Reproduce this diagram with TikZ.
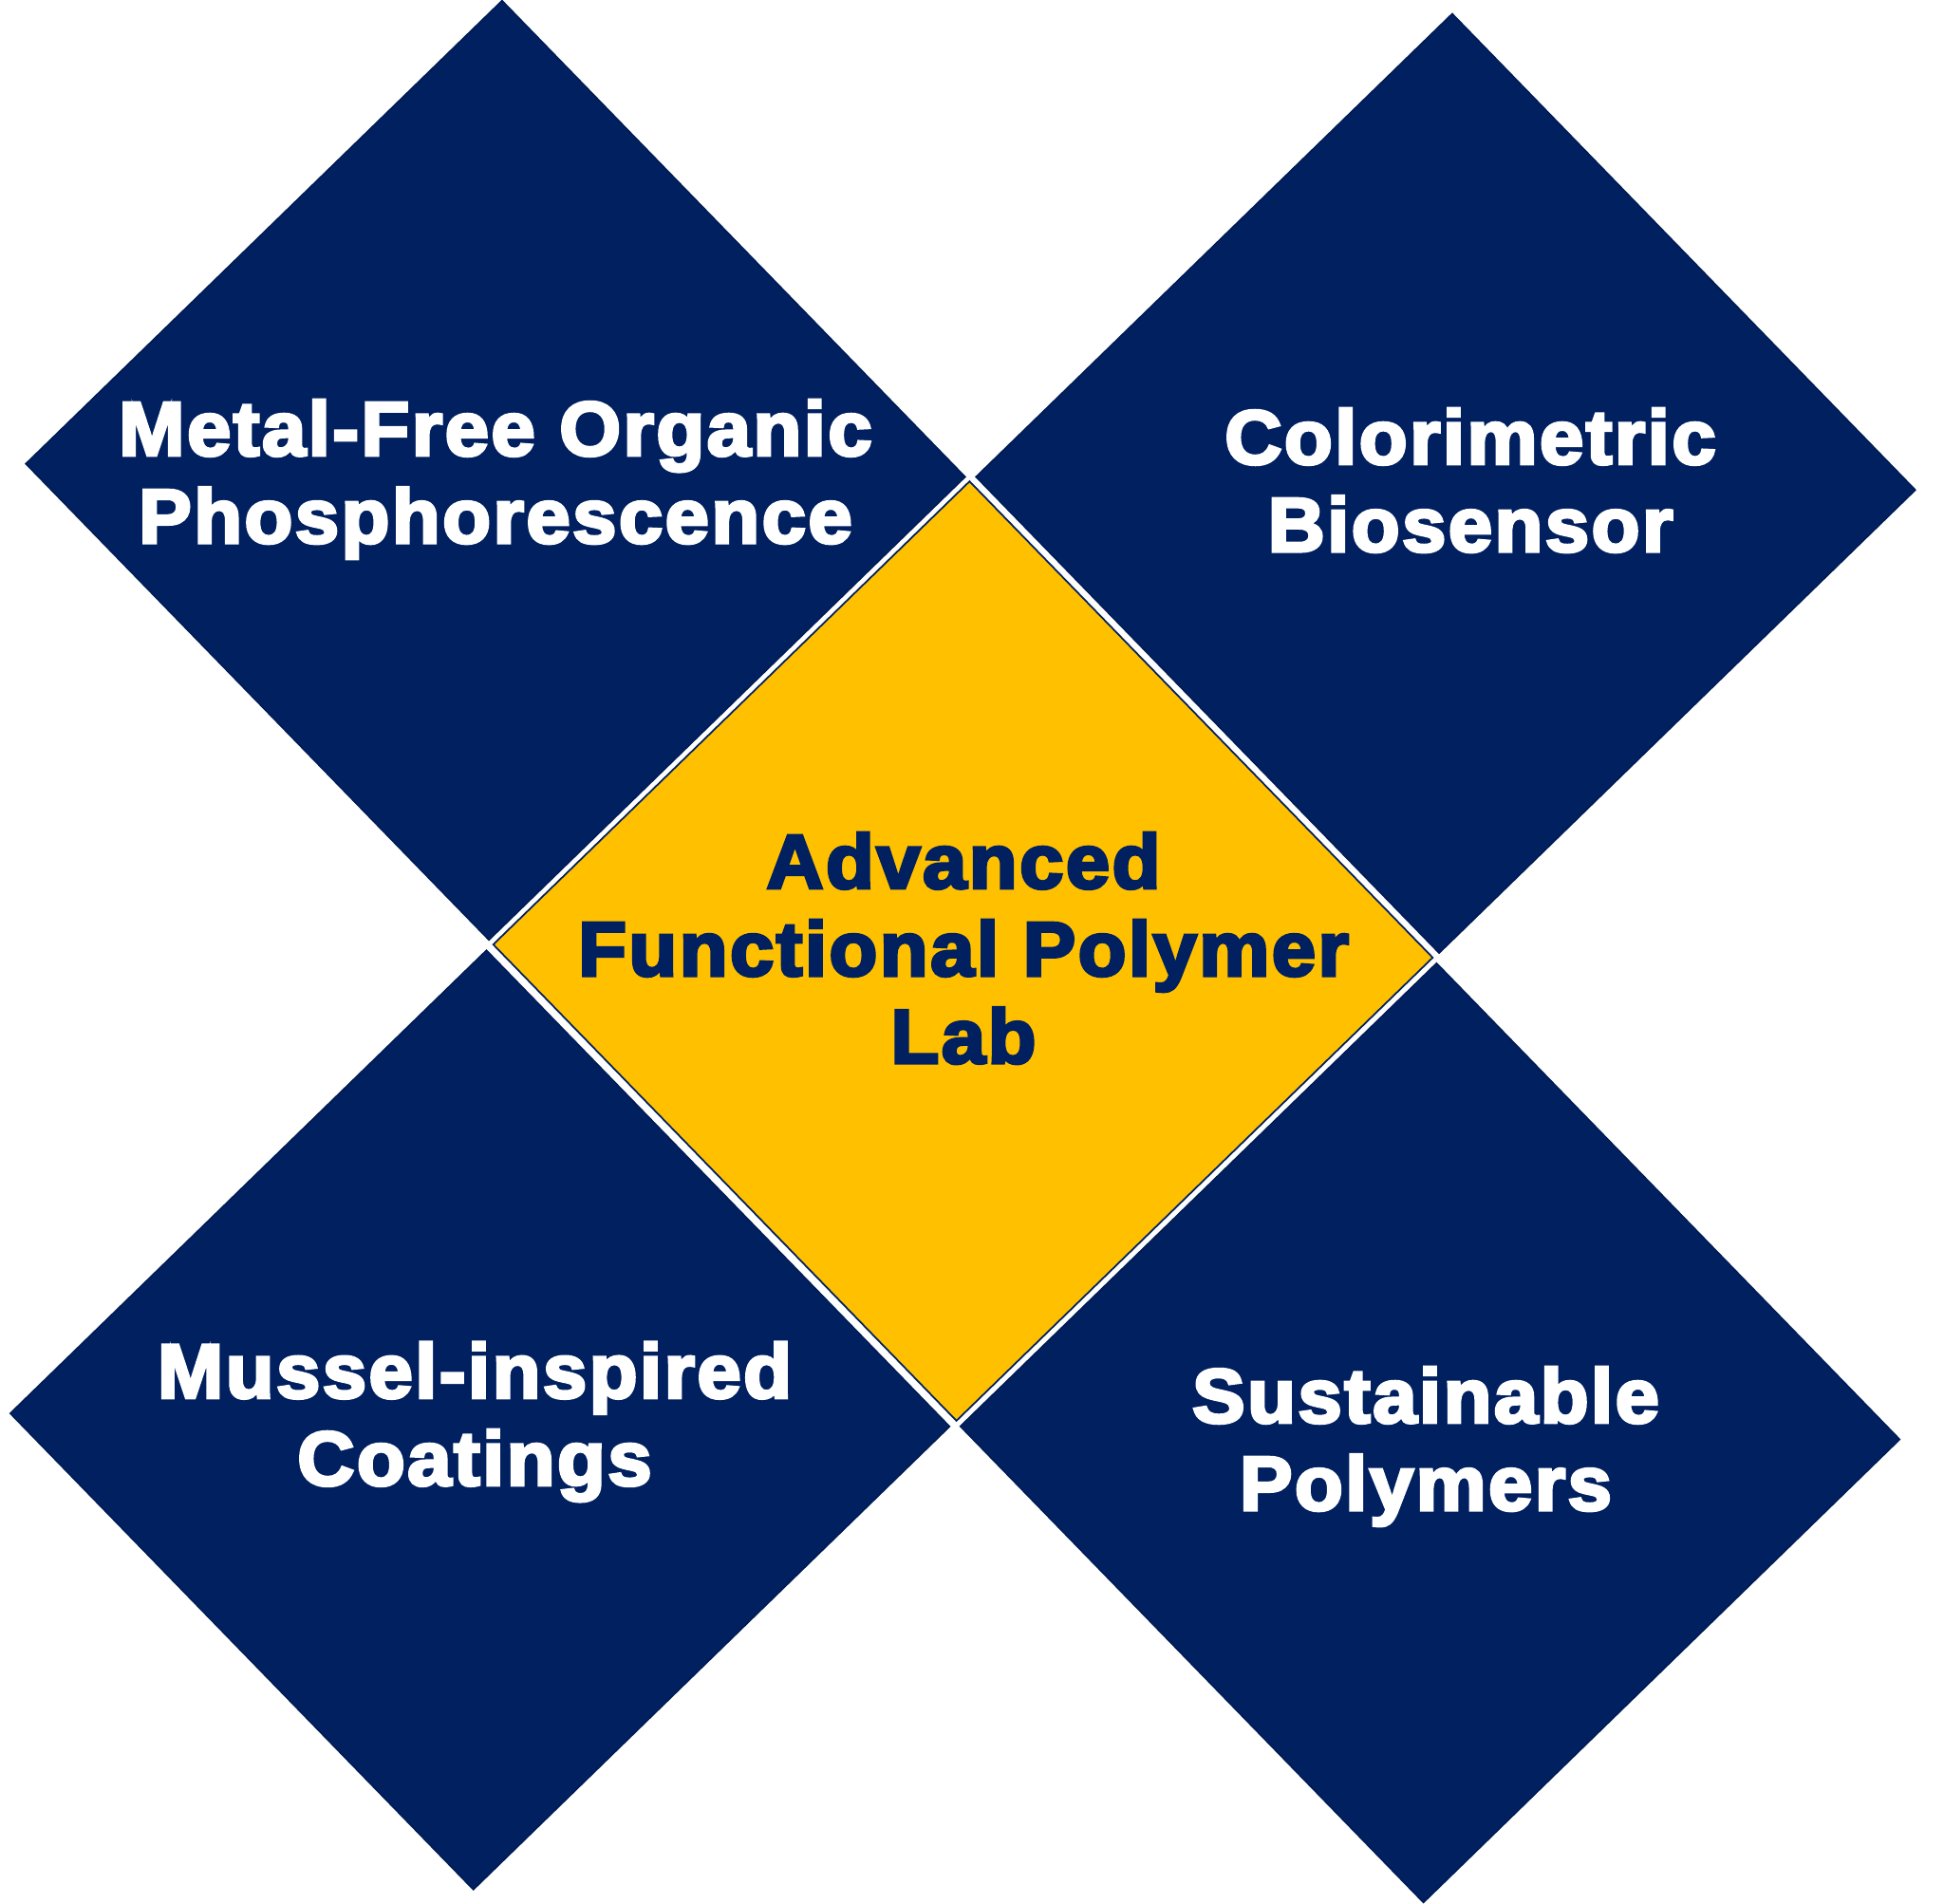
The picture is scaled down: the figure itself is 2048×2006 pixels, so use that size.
\documentclass[tikz,border=0pt]{standalone}
\usepackage{fontspec}
\newfontfamily\labelfont{Liberation Sans}[BoldFeatures={FakeBold=4}, FakeStretch=1.03, LetterSpace=3]
\usepackage{tikz}
\usetikzlibrary{shapes.geometric}
\definecolor{labnavy}{HTML}{002060}
\definecolor{labgold}{HTML}{FFC000}

\begin{document}
\begin{tikzpicture}[x=0.01cm, y=-0.01cm,
    areanode/.style={diamond, aspect=1, minimum size=9.9cm, inner sep=0pt, rotate=-0.8, fill=labnavy, draw=labnavy!85!black, line width=0.4pt},
    labeltext/.style={align=center, inner sep=0pt, font=\labelfont\bfseries\fontsize{23}{26.2}\selectfont}
]
    \useasboundingbox (0, 0) rectangle (2048, 2006);

    % Research areas
    % - [Fig: four outer diamonds]
    \node at (522, 495.5) [areanode](phos){};
    \node at (1523, 509.3) [areanode](biosensor){};
    \node at (505.6, 1496) [areanode](coatings){};
    \node at (1506.5, 1509.6) [areanode](polymers){};
    % - [Fig: the lab in the middle]
    \node at (1014.5, 1002) [areanode, fill=labgold, draw=labnavy, line width=0.5pt](lab){};

    % Labels
    % -- outer diamonds, white text
    \node at (522, 505) [labeltext, text=white](phos_text){Metal-Free Organic\\Phosphorescence};
    \node at (1549, 506) [labeltext, text=white](biosensor_text){Colorimetric\\Biosensor};
    \node at (500, 1498) [labeltext, text=white](coatings_text){Mussel-inspired\\Coatings};
    \node at (1502, 1524) [labeltext, text=white](polymers_text){Sustainable\\Polymers};
    % -- the middle one, navy text
    \node at (1015, 999) [labeltext, text=labnavy](lab_text){Advanced\\Functional Polymer\\Lab};

\end{tikzpicture}
\end{document}
